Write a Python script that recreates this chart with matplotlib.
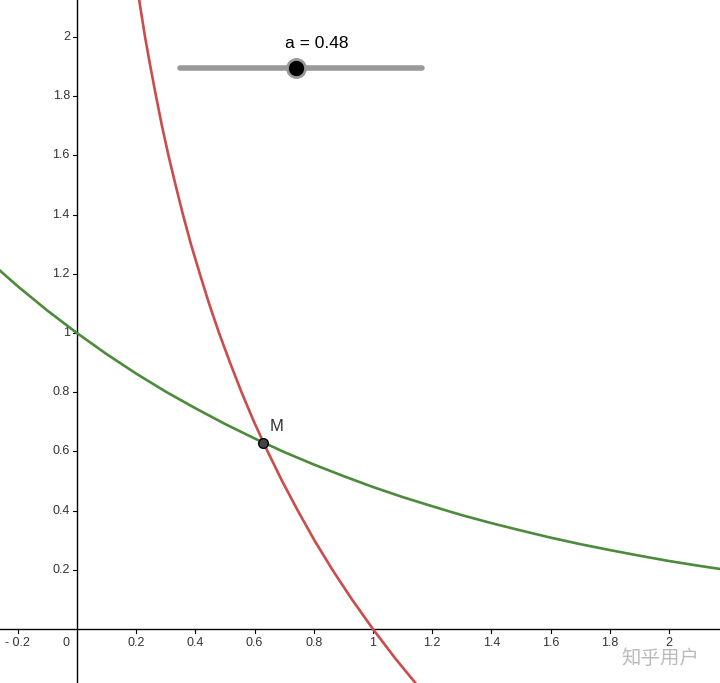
import matplotlib.pyplot as plt
import matplotlib.lines as mlines

plt.rcParams["font.family"] = ["Liberation Sans", "DejaVu Sans"]

# slider value and values
a_value = 0.48
x_vals = [-0.3, -0.2, -0.1, 0.0, 0.1, 0.2, 0.3, 0.4, 0.5, 0.6, 0.7, 0.8, 0.9,
          1.0, 1.1, 1.2, 1.3, 1.4, 1.5, 1.6, 1.7, 1.8, 1.9, 2.0, 2.1, 2.2]
green_y = [1.246, 1.158, 1.076, 1.0, 0.929, 0.863, 0.802, 0.746, 0.693, 0.644,
           0.598, 0.556, 0.517, 0.48, 0.446, 0.415, 0.385, 0.358, 0.333, 0.309,
           0.287, 0.267, 0.248, 0.230, 0.214, 0.199]
# red curve is the mirror image: x <-> y
red_x = green_y
red_y = x_vals
point_m = (0.63, 0.63)

x_ticks = [-0.2, 0.2, 0.4, 0.6, 0.8, 1, 1.2, 1.4, 1.6, 1.8, 2]
x_labels = ["- 0.2", "0.2", "0.4", "0.6", "0.8", "1", "1.2", "1.4", "1.6", "1.8", "2"]
y_ticks = [0.2, 0.4, 0.6, 0.8, 1, 1.2, 1.4, 1.6, 1.8, 2]
y_labels = ["0.2", "0.4", "0.6", "0.8", "1", "1.2", "1.4", "1.6", "1.8", "2"]

fig = plt.figure(figsize=(7.2, 6.83), dpi=100)
ax = fig.add_axes([0, 0, 1, 1])
ax.set_xlim(-0.26, 2.172)
ax.set_ylim(-0.182, 2.125)
ax.axis("off")

# axes
ax.axhline(0, color="black", lw=1.0, zorder=1)
ax.axvline(0, color="black", lw=1.0, zorder=1)
tick_len = 0.012
for t, lab in zip(x_ticks, x_labels):
    ax.plot([t, t], [0, -tick_len], color="black", lw=0.8)
    ax.text(t, -0.026, lab, ha="center", va="top", fontsize=9, color="#333333")
for t, lab in zip(y_ticks, y_labels):
    ax.plot([0, -tick_len], [t, t], color="black", lw=0.8)
    ax.text(-0.024, t, lab, ha="right", va="center", fontsize=9, color="#333333")
ax.text(-0.024, -0.026, "0", ha="right", va="top", fontsize=9, color="#333333")

# curves
ax.plot(x_vals, green_y, color="#4b8b3b", lw=1.9, zorder=3)
ax.plot(red_x, red_y, color="#cc4b4b", lw=1.9, zorder=3)

# point M
ax.plot(*point_m, marker="o", ms=7, mfc="#444444", mec="black", mew=1, zorder=5)
ax.text(point_m[0] + 0.02, point_m[1] + 0.03, "M", fontsize=12, color="#333333",
        ha="left", va="bottom")

# slider
ax.add_line(mlines.Line2D([0.25, 0.586], [0.9004, 0.9004], transform=ax.transAxes,
                          color="#999999", lw=4, solid_capstyle="round", zorder=6))
ax.plot([0.411], [0.9004], transform=ax.transAxes, marker="o", ms=14,
        mfc="#999999", mec="#999999", zorder=7)
ax.plot([0.411], [0.9004], transform=ax.transAxes, marker="o", ms=10,
        mfc="black", mec="black", zorder=8)
ax.text(0.44, 0.9356, "a = %.2f" % a_value, transform=ax.transAxes, ha="center",
        va="center", fontsize=12.5, color="black")

# watermark
ax.text(0.972, 0.036, "知乎用户", transform=ax.transAxes, ha="right", va="center",
        fontsize=14, color="#bbbbbb", family=["Noto Sans CJK SC", "DejaVu Sans"])

fig.savefig("out.png", dpi=100)
